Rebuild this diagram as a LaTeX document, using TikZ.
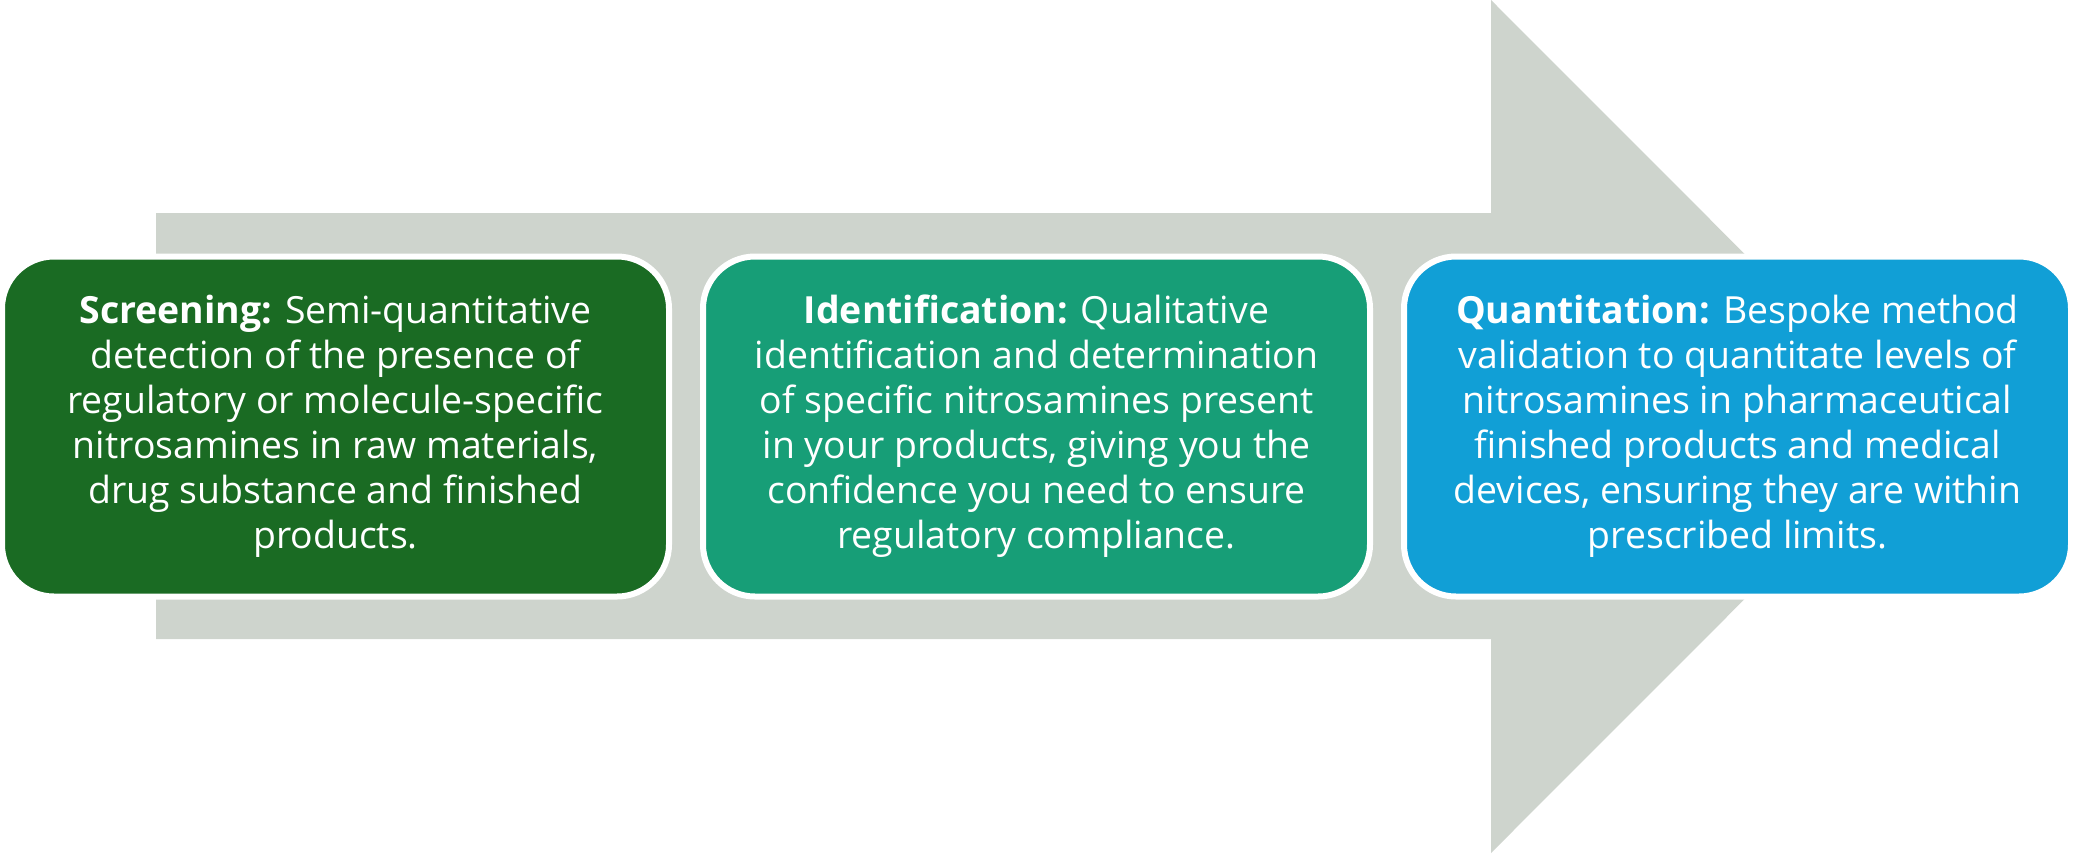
\documentclass[tikz,border=0pt]{standalone}
\usepackage{fontspec}
\setmainfont{Open Sans}
\usepackage{tikz}
\usetikzlibrary{positioning}
\definecolor{stepgreen}{HTML}{1A6B23}
\definecolor{stepteal}{HTML}{179E77}
\definecolor{stepblue}{HTML}{119FD6}
\definecolor{arrowgray}{HTML}{CED4CD}

\begin{document}
\begin{tikzpicture}[x=0.5pt, y=-0.5pt,
  stage/.style={rectangle, draw=white, line width=3pt, rounded corners=26pt,
    minimum width=333.5pt, minimum height=170pt, align=center,
    inner sep=0pt, outer sep=0pt, text=white,
    font=\fontsize{18.7}{22.5}\selectfont},
  node distance=17pt
]
  \useasboundingbox (0,0) rectangle (2074,853);
  % grey arrow behind the three stages
  \fill[arrowgray] (156,213) -- (1491,213) -- (1491,0) -- (1917,426.5)
    -- (1491,853) -- (1491,639) -- (156,639) -- cycle;
  \node[stage, fill=stepgreen, anchor=west] (screen) at (2,426.5)
    {\textbf{Screening:} Semi-quantitative\\detection of the presence of\\regulatory or molecule-specific\\nitrosamines in raw materials,\\drug substance and finished\\products.};
  \node[stage, fill=stepteal, right=of screen] (ident)
    {\textbf{Identification:} Qualitative\\identification and determination\\of specific nitrosamines present\\in your products, giving you the\\confidence you need to ensure\\regulatory compliance.};
  \node[stage, fill=stepblue, right=of ident] (quant)
    {\textbf{Quantitation:} Bespoke method\\validation to quantitate levels of\\nitrosamines in pharmaceutical\\finished products and medical\\devices, ensuring they are within\\prescribed limits.};
\end{tikzpicture}
\end{document}
